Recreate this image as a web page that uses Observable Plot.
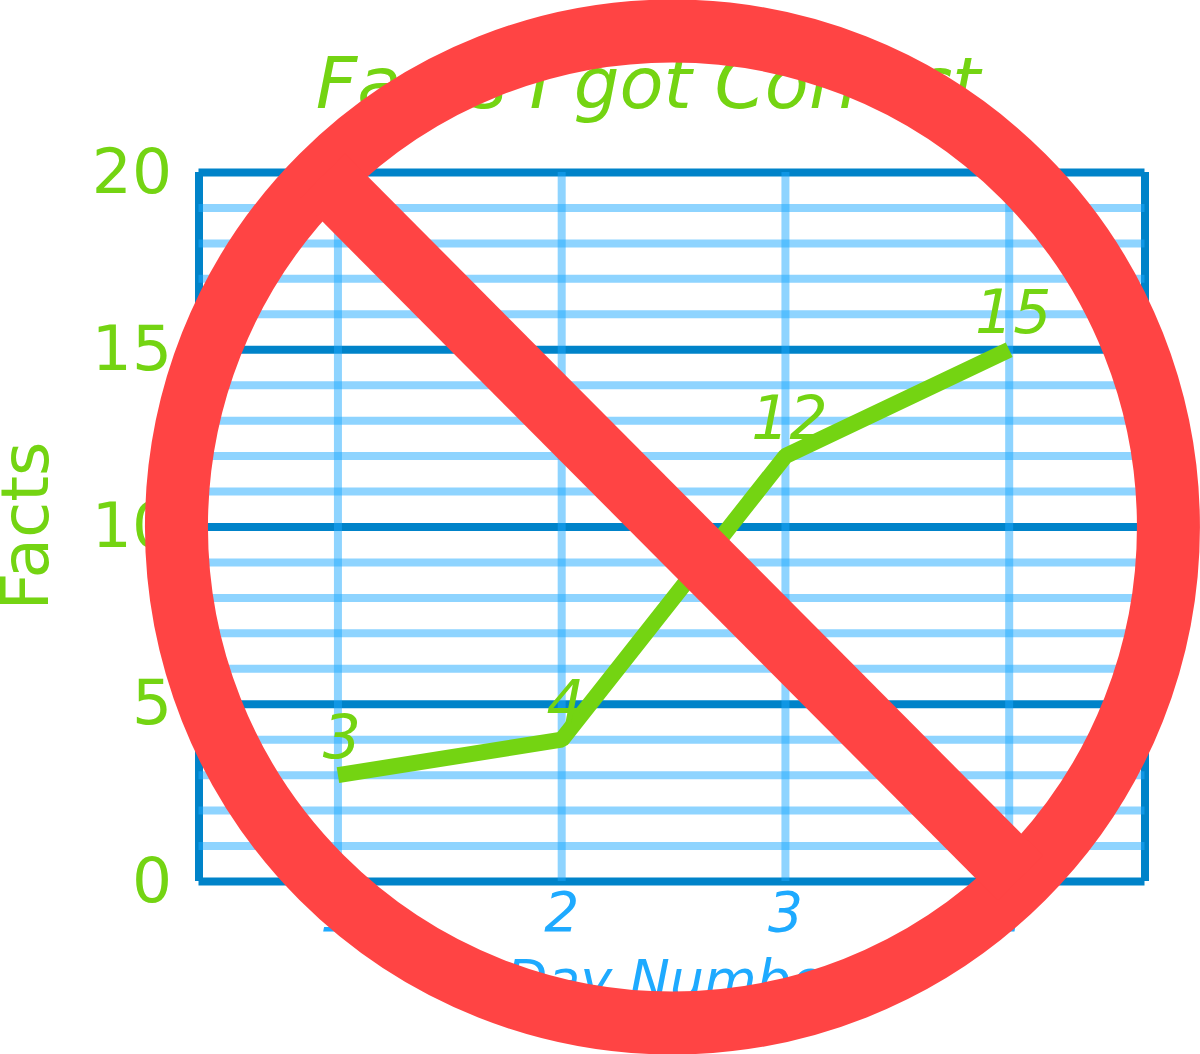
<!DOCTYPE html>
<html>
<head>
<meta charset="utf-8">
<script src="https://cdn.jsdelivr.net/npm/d3@7"></script>
<script src="https://cdn.jsdelivr.net/npm/@observablehq/plot@0.6"></script>
<style>
  html, body { margin: 0; padding: 0; background: #fff; }
  svg { display: block; }
</style>
</head>
<body>
<div id="chart"></div>
<script>
const days = [1, 2, 3, 4];
const facts = [3, 4, 12, 15];
const minorTicks = [1, 2, 3, 4, 6, 7, 8, 9, 11, 12, 13, 14, 16, 17, 18, 19];
const majorTicks = [0, 5, 10, 15, 20];
const xDomain = [0.379, 4.607];
const yDomain = [0, 20];
const titleText = "Facts I got Correct";
const xLabel = "Day Number";
const yLabel = "Facts";
const ringCentre = [{x: 2.495, y: 10}];
const slash = [{x: 0.93, y: 19.9}, {x: 4.05, y: 0.1}];

const table = days.map((d, i) => ({day: d, facts: facts[i]}));
const green = "#74d412", blue = "#1eaaff", dark = "#0083c9", red = "#ff4444";
const font = "'DejaVu Sans'";

const plot = Plot.plot({
  width: 1200,
  height: 1054,
  marginLeft: 198.5,
  marginRight: 55.5,
  marginTop: 172,
  marginBottom: 173,
  style: {fontFamily: font, background: "#fff", overflow: "visible"},
  x: {domain: xDomain, axis: null},
  y: {domain: yDomain, axis: null},
  marks: [
    Plot.ruleX(xDomain, {stroke: dark, strokeWidth: 8}),
    Plot.ruleY(majorTicks, {stroke: dark, strokeWidth: 8}),
    Plot.ruleY(minorTicks, {stroke: blue, strokeOpacity: 0.5, strokeWidth: 8}),
    Plot.ruleX(days, {stroke: blue, strokeOpacity: 0.5, strokeWidth: 8}),
    Plot.line(table, {x: "day", y: "facts", stroke: green, strokeWidth: 16, strokeLinecap: "butt", strokeLinejoin: "miter"}),
    Plot.text(table, {x: "day", y: "facts", text: "facts", fill: green, fontSize: 60, fontStyle: "italic", dy: -36, dx: 4}),
    Plot.axisY(majorTicks, {anchor: "left", label: null, tickSize: 0, tickPadding: 27, fontSize: 63, fill: green, color: green}),
    Plot.axisX(days, {anchor: "bottom", label: null, tickSize: 0, tickPadding: 10, fontSize: 55, fontStyle: "italic", fill: blue, color: blue, tickFormat: "d"}),
    Plot.text([titleText], {frameAnchor: "top", text: d => d, fill: green, fontSize: 72, fontStyle: "italic", dy: -116, dx: -24}),
    Plot.text([xLabel], {frameAnchor: "bottom", text: d => d, fill: blue, fontSize: 54, fontStyle: "italic", dy: 116, dx: 4}),
    Plot.text([yLabel], {frameAnchor: "left", textAnchor: "middle", text: d => d, fill: green, fontSize: 66, rotate: -90, dx: -172, dy: -1}),
    Plot.dot(ringCentre, {x: "x", y: "y", r: 496, stroke: red, strokeWidth: 63, fill: "none", clip: false}),
    Plot.line(slash, {x: "x", y: "y", stroke: red, strokeWidth: 64, strokeLinecap: "butt", strokeLinejoin: "miter"})
  ]
});
document.getElementById("chart").append(plot);
</script>
</body>
</html>
